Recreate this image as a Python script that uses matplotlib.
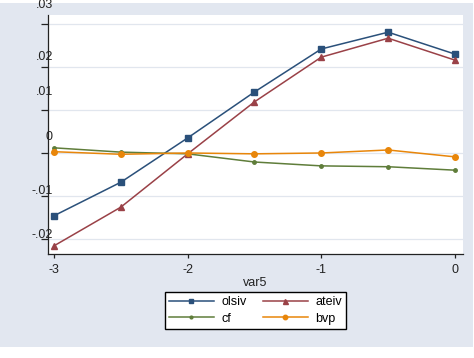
import matplotlib
matplotlib.use("Agg")
import matplotlib.pyplot as plt
import matplotlib.transforms as mtransforms
from matplotlib.patches import Rectangle

# data
var5 = [-3, -2.5, -2, -1.5, -1, -0.5, 0]
olsiv = [-0.0146, -0.0068, 0.0035, 0.0142, 0.0242, 0.0281, 0.0230]
ateiv = [-0.0216, -0.0126, -0.0002, 0.0119, 0.0223, 0.0267, 0.0216]
cf = [0.0012, 0.0002, -0.0002, -0.0021, -0.0030, -0.0032, -0.0040]
bvp = [0.0003, -0.0003, 0.0000, -0.0002, 0.0000, 0.0007, -0.0009]

yticks = [-0.02, -0.01, 0, 0.01, 0.02, 0.03]
ytick_labels = ["-.02", "-.01", "0", ".01", ".02", ".03"]
xticks = [-3, -2, -1, 0]
xtick_labels = ["-3", "-2", "-1", "0"]

plt.rcParams['font.family'] = ['Liberation Sans', 'DejaVu Sans']

W, H = 474, 358
fig = plt.figure(figsize=(W / 100, H / 100), dpi=100)
fig.patch.set_facecolor('white')

# light graph region behind everything
bg = Rectangle((0, 11 / H), 473 / W, (H - 3 - 11) / H, transform=fig.transFigure,
               facecolor='#e2e7f0', edgecolor='none', zorder=-10)
fig.patches.append(bg)

ax = fig.add_axes([48 / W, (H - 254) / H, 415 / W, (254 - 15) / H])
ax.set_facecolor('white')

l1, = ax.plot(var5, olsiv, color='#2a507a', lw=1.1, marker='s', ms=4, label='olsiv')
l2, = ax.plot(var5, ateiv, color='#9a4147', lw=1.1, marker='^', ms=4.5, label='ateiv')
l3, = ax.plot(var5, cf, color='#5f7d3a', lw=1.1, marker='o', ms=2.5, label='cf')
l4, = ax.plot(var5, bvp, color='#e8860a', lw=1.1, marker='o', ms=4, label='bvp')

ax.set_xlim(-3.045, 0.06)
ax.set_ylim(-0.0235, 0.0321)

ax.set_yticks(yticks)
ax.set_yticklabels([])
ax.grid(axis='y', color='#e1e6ee', lw=0.9)
ax.set_axisbelow(True)
ax.tick_params(axis='y', length=5, width=0.9, color='#222222')

# stata puts the y labels a bit above their ticks
offsets = [4, 5, 16, 18, 10, 19]
trans = mtransforms.blended_transform_factory(ax.transAxes, ax.transData)
for y, lab, dy in zip(yticks, ytick_labels, offsets):
    t = trans + mtransforms.ScaledTranslation(0, dy / 100, fig.dpi_scale_trans)
    ax.text(0.012, y, lab, transform=t, ha='right', va='center', fontsize=9,
            color='#222222', clip_on=False)

ax.set_xticks(xticks)
ax.set_xticklabels(xtick_labels, fontsize=9, color='#222222')
ax.tick_params(axis='x', length=3, width=0.9, pad=4, color='#222222')
ax.set_xlabel('var5', fontsize=9, color='#222222', labelpad=1)

for side in ['top', 'right']:
    ax.spines[side].set_visible(False)
for side in ['left', 'bottom']:
    ax.spines[side].set_color('#222222')
    ax.spines[side].set_linewidth(0.9)

# row-wise order like stata: olsiv ateiv / cf bvp
leg = ax.legend([l1, l3, l2, l4], ['olsiv', 'cf', 'ateiv', 'bvp'],
                loc='upper center', bbox_to_anchor=(0.5, -0.159), ncol=2,
                borderaxespad=0, fontsize=9, frameon=True, fancybox=False,
                handlelength=3.6, columnspacing=1.3, handletextpad=0.6,
                borderpad=0.35, labelspacing=0.35, markerscale=0.8)
leg.get_frame().set_edgecolor('black')
leg.get_frame().set_facecolor('white')
leg.get_frame().set_alpha(1)
leg.get_frame().set_linewidth(1.0)

fig.savefig('out.png', dpi=100)
